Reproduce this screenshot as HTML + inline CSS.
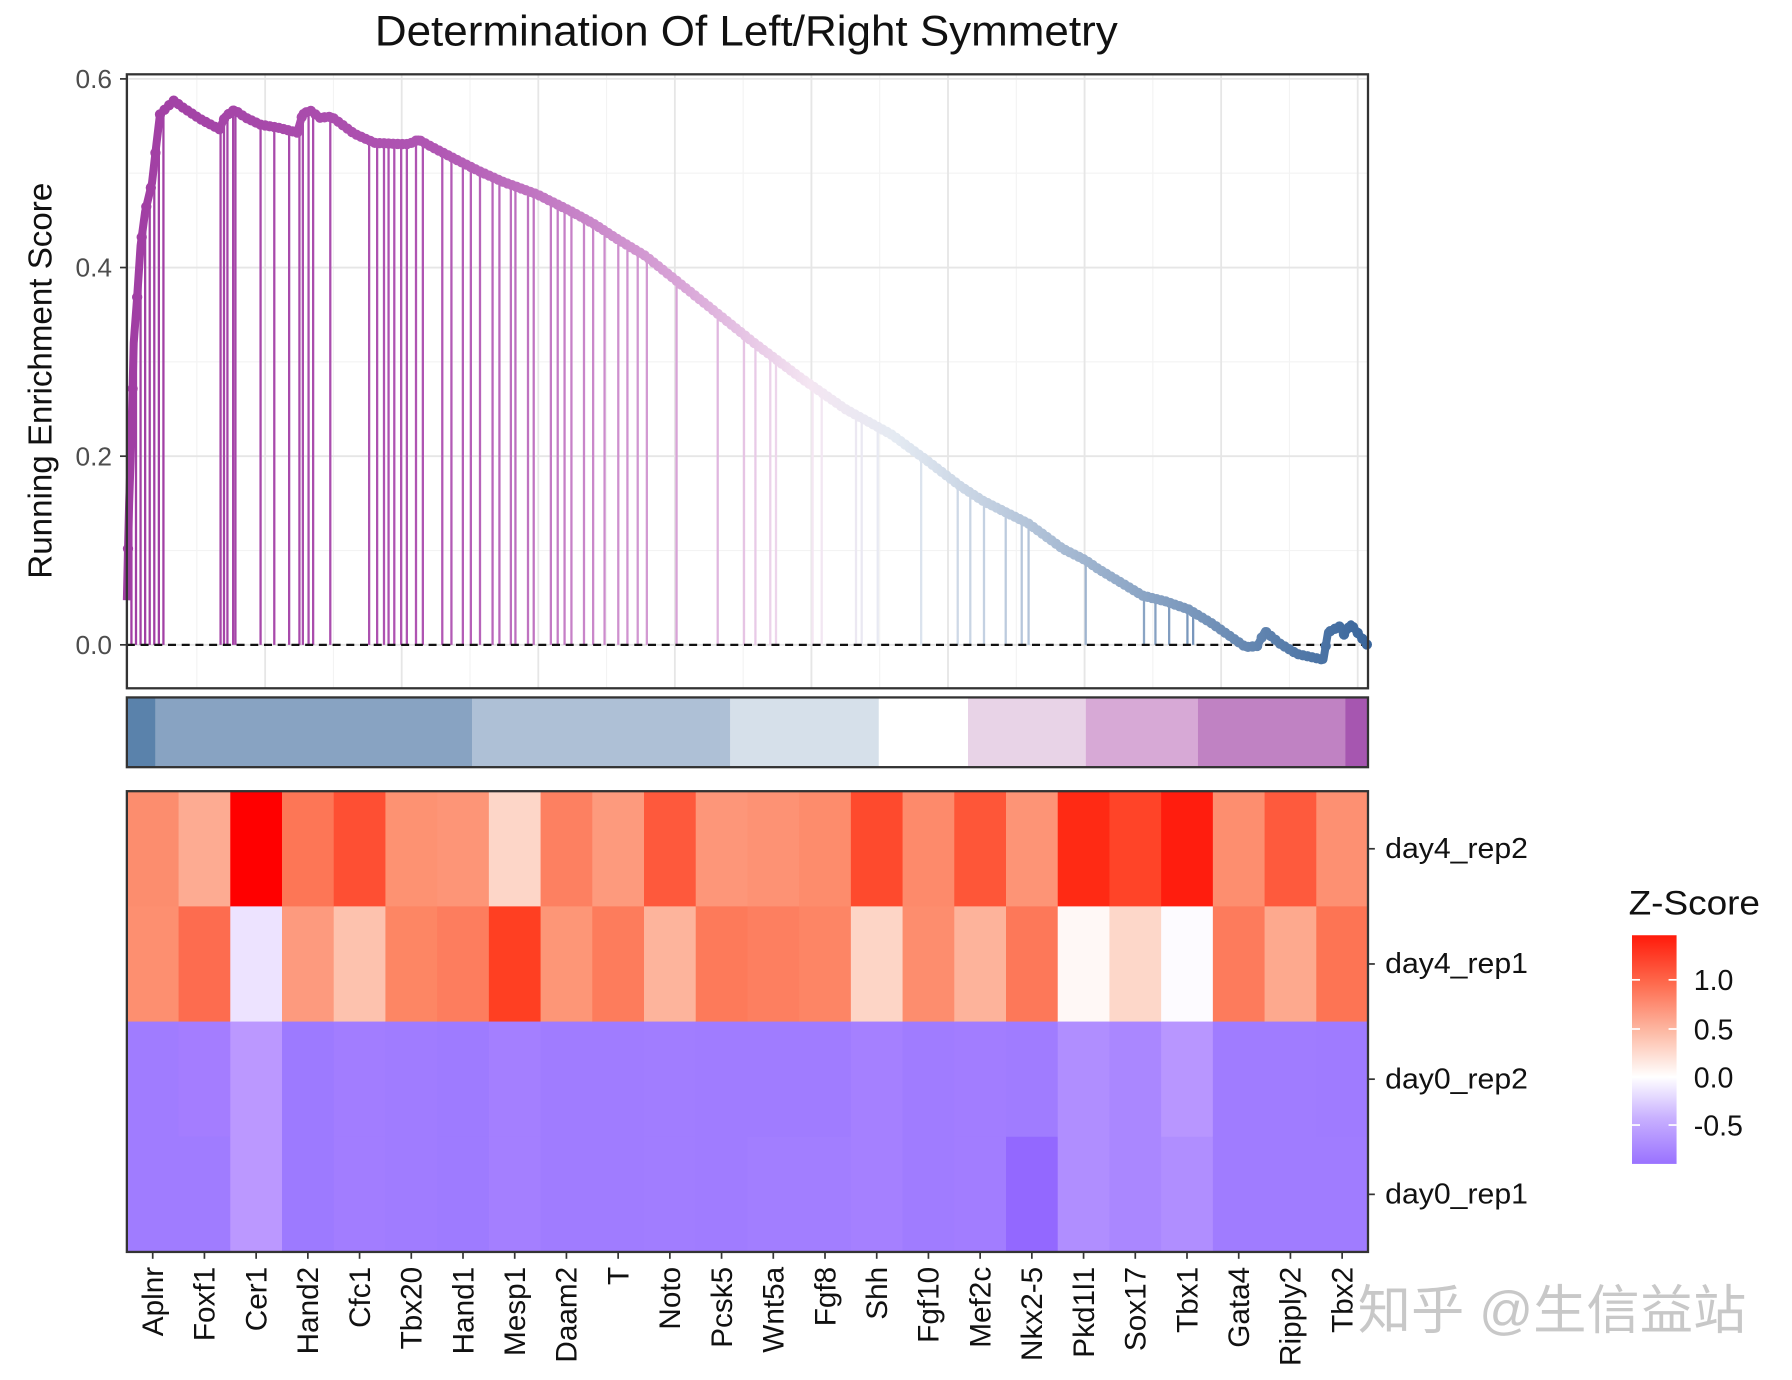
<!DOCTYPE html>
<html><head><meta charset="utf-8"><style>
html,body{margin:0;padding:0;background:#fff;}
svg{display:block;}
text{font-family:"Liberation Sans",Arial,sans-serif;}
</style></head><body>
<svg id="s" width="1792" height="1380" viewBox="0 0 1568 1207" preserveAspectRatio="none" xmlns="http://www.w3.org/2000/svg">
<defs>
<linearGradient id="g" gradientUnits="userSpaceOnUse" x1="111" y1="0" x2="1197" y2="0">
<stop offset="0" stop-color="#a03ea3"/>
<stop offset="0.25" stop-color="#b056b3"/>
<stop offset="0.45" stop-color="#d9a6d8"/>
<stop offset="0.55" stop-color="#f4e6f2"/>
<stop offset="0.62" stop-color="#e4eaf2"/>
<stop offset="0.75" stop-color="#a9bcd4"/>
<stop offset="1" stop-color="#3a669c"/>
</linearGradient>
<linearGradient id="lg" x1="0" y1="0" x2="0" y2="1">
<stop offset="0" stop-color="#ff1a0a"/>
<stop offset="0.21" stop-color="#fe6a4d"/>
<stop offset="0.42" stop-color="#fdb9a4"/>
<stop offset="0.62" stop-color="#ffffff"/>
<stop offset="0.8" stop-color="#c8b0ff"/>
<stop offset="1" stop-color="#9a72ff"/>
</linearGradient>
</defs>
<g id="root"></g>
</svg>
<script>
const NS="http://www.w3.org/2000/svg";
const R=document.getElementById('root');
function el(t,a,txt){const e=document.createElementNS(NS,t);for(const k in a)e.setAttribute(k,a[k]);if(txt!==undefined)e.textContent=txt;R.appendChild(e);return e;}
el('text',{x:328,y:40,'font-size':37,textLength:650,lengthAdjust:'spacingAndGlyphs',fill:'#111'},'Determination Of Left/Right Symmetry');
const X0=111,X1=1197,Y0=65,Y1=602;
el('rect',{x:X0,y:Y0,width:X1-X0,height:Y1-Y0,fill:'#fff'});
for(let x=112.5;x<1197;x+=59.75){el('line',{x1:x,y1:Y0,x2:x,y2:Y1,stroke:'#f3f3f3','stroke-width':1});}
for(let v=-0.1;v<=0.65;v+=0.1){const y=564-v*825;if(y>Y0&&y<Y1)el('line',{x1:X0,y1:y,x2:X1,y2:y,stroke:'#f3f3f3','stroke-width':1});}
for(let i=1;i<=9;i++){const x=112.5+i*119.5;el('line',{x1:x,y1:Y0,x2:x,y2:Y1,stroke:'#e6e6e6','stroke-width':1.6});}
[0,0.2,0.4,0.6].forEach(v=>{const y=564-v*825;el('line',{x1:X0,y1:y,x2:X1,y2:y,stroke:'#e6e6e6','stroke-width':1.6});
el('line',{x1:X0-6,y1:y,x2:X0,y2:y,stroke:'#333','stroke-width':1.5});
el('text',{x:98,y:y+8,'font-size':23,'text-anchor':'end',fill:'#4d4d4d'},v.toFixed(1));});
el('text',{x:0,y:0,'font-size':29,'text-anchor':'middle',fill:'#111',transform:'translate(45,333) rotate(-90)'},'Running Enrichment Score');
const P=[[111,525],[112,480],[113,440],[115,380],[117,300],[120,260],[123,215],[127,185],[133,160],[137,125],[140,100],[145,95],[152,88],[160,94],[175,104],[192,113],[197,102],[205,96],[215,103],[228,109],[245,112],[260,116],[265,99],[272,97],[280,103],[290,102],[310,117],[328,125],[350,126],[358,126],[366,122],[375,127],[400,140],[420,150],[440,159],[470,170],[500,185],[520,196],[540,209],[565,224],[590,244],[620,268],[660,300],[700,330],[740,358],[780,380],[810,402],[840,425],[860,438],[880,448],[900,458],[930,480],[950,490],[960,497],[1000,521],[1020,526],[1040,533],[1060,545],[1090,566],[1100,565],[1107,552],[1120,563],[1135,572],[1158,577],[1162,553],[1172,548],[1176,555],[1182,546],[1197,565]];
function yAt(x){for(let i=1;i<P.length;i++){if(x<=P[i][0]){const a=P[i-1],b=P[i];return a[1]+(b[1]-a[1])*(x-a[0])/(b[0]-a[0]);}}return 565;}
const hits=[115,119,123,127,131,135,139,143,193,196,199,204,206,228,240,253,262,265,270,274,289,323,330,336,340,345,351,356,364,370,387,395,405,412,420,431,437,447,451,462,467,482,488,494,500,511,519,529,541,549,558,566,592,628,651,661,674,679,711,719,749,754,768,806,838,849,861,880,894,900,950,1001,1011,1023,1039,1044];
hits.forEach(x=>el('line',{x1:x,y1:yAt(x),x2:x,y2:564,stroke:'url(#g)','stroke-width':2}));
el('line',{x1:X0,y1:564,x2:X1,y2:564,stroke:'#111','stroke-width':2,'stroke-dasharray':'7,5'});
el('path',{d:'M'+P.map(p=>p.join(',')).join(' L'),fill:'none',stroke:'url(#g)','stroke-width':7,'stroke-linejoin':'round'});
for(let x=112;x<1197;x+=4){el('circle',{cx:x,cy:yAt(x),r:4.5,fill:'url(#g)'});}
el('rect',{x:X0,y:Y0,width:X1-X0,height:Y1-Y0,fill:'none',stroke:'#333','stroke-width':2});
const seg=[[111,136,'#5a82ab'],[136,413,'#88a3c2'],[413,639,'#aec0d6'],[639,769,'#d6e0ea'],[769,847,'#ffffff'],[847,950,'#e8d3e7'],[950,1048,'#d7a9d6'],[1048,1177,'#c082c3'],[1177,1197,'#a656b0']];
seg.forEach(s=>el('rect',{x:s[0],y:610,width:s[1]-s[0],height:61,fill:s[2]}));
el('rect',{x:X0,y:610,width:X1-X0,height:61,fill:'none',stroke:'#333','stroke-width':2});
const genes=['Aplnr','Foxf1','Cer1','Hand2','Cfc1','Tbx20','Hand1','Mesp1','Daam2','T','Noto','Pcsk5','Wnt5a','Fgf8','Shh','Fgf10','Mef2c','Nkx2-5','Pkd1l1','Sox17','Tbx1','Gata4','Ripply2','Tbx2'];
const C=[
['#fc8d6e','#fd8f70','#a07cff','#a07cff'],['#fdab92','#fd6c4f','#a47dff','#a07cff'],['#ff0000','#ede3ff','#bb98ff','#bb98ff'],
['#fd7656','#fd9a7e','#9d7aff','#9d7aff'],['#fe4f33','#fdc2ae','#a27dff','#a27dff'],['#fd9272','#fd8664','#a07cff','#a07cff'],
['#fd9577','#fd7d5e','#9e7bff','#9e7bff'],['#fdd6c8','#ff3f22','#a47fff','#a47fff'],['#fd8061','#fd9677','#a07cff','#a07cff'],
['#fd9a7d','#fd7c5c','#a07cff','#a07cff'],['#fe593c','#fdb49c','#a17dff','#a17dff'],['#fd9679','#fd7a5a','#a07cff','#a07cff'],
['#fd9274','#fd7f60','#a07cff','#a27eff'],['#fd8c6c','#fd8565','#a07cff','#a27eff'],['#fe4a2d','#fdd5c6','#a580ff','#a580ff'],
['#fd8a6b','#fd8d6e','#a07cff','#a07cff'],['#fe5638','#fdb39b','#a27dff','#a27dff'],['#fd9476','#fd7859','#a07cff','#9368ff'],
['#ff2a14','#fff8f6','#b08eff','#b08eff'],['#ff4428','#fdd7c9','#aa87ff','#aa87ff'],['#ff1d0e','#fdfbff','#b896ff','#b08eff'],
['#fd8e6f','#fd7b5c','#a07cff','#a07cff'],['#fe5a3d','#fda98e','#a07cff','#a07cff'],['#fd9072','#fd7454','#9f7bff','#a07cff']];
const HW=(1197-111)/24,HY=692,RH=100.75;
genes.forEach((g,i)=>{const x=111+i*HW;
for(let r=0;r<4;r++)el('rect',{x:x,y:HY+r*RH,width:HW+0.6,height:RH+0.6,fill:C[i][r]});
el('line',{x1:x+HW/2,y1:1095,x2:x+HW/2,y2:1101,stroke:'#333','stroke-width':1.5});
el('text',{x:0,y:0,'font-size':26,'text-anchor':'end',fill:'#111',transform:`translate(${x+HW/2+9},1108) rotate(-90)`},g);});
el('rect',{x:X0,y:HY,width:X1-X0,height:4*RH,fill:'none',stroke:'#333','stroke-width':2});
['day4_rep2','day4_rep1','day0_rep2','day0_rep1'].forEach((t,r)=>{const y=HY+r*RH+RH/2;
el('line',{x1:1197,y1:y,x2:1203,y2:y,stroke:'#333','stroke-width':1.5});
el('text',{x:1212,y:y+8,'font-size':25,textLength:125,lengthAdjust:'spacingAndGlyphs',fill:'#111'},t);});
el('text',{x:1425,y:800,'font-size':30,textLength:115,lengthAdjust:'spacingAndGlyphs',fill:'#111'},'Z-Score');
el('rect',{x:1428,y:818,width:39,height:200,fill:'url(#lg)'});
[[1.0,857],[0.5,900],[0.0,942],[-0.5,984]].forEach(a=>{
el('line',{x1:1428,y1:a[1],x2:1435,y2:a[1],stroke:'#fff','stroke-width':1.5});
el('line',{x1:1460,y1:a[1],x2:1467,y2:a[1],stroke:'#fff','stroke-width':1.5});
el('text',{x:1482,y:a[1]+9,'font-size':25,fill:'#111'},a[0].toFixed(1));});
const w=el('text',{x:1188,y:1162,'font-size':46,textLength:340,lengthAdjust:'spacingAndGlyphs',fill:'#c8c8c8'},'知乎 @生信益站');
w.setAttribute('style','font-family:"Liberation Sans","Noto Sans CJK SC",sans-serif');
</script>
</body></html>
